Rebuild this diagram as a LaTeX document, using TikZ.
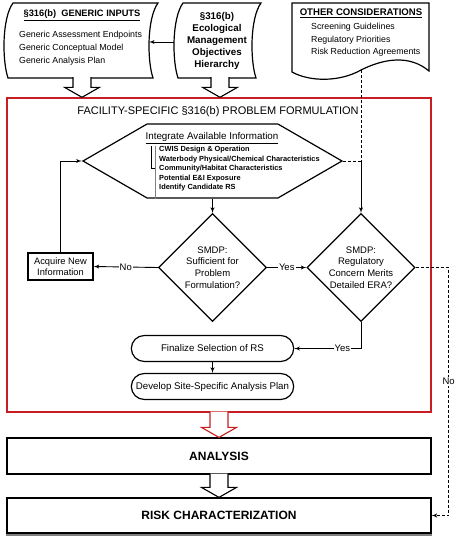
\documentclass[tikz,border=0pt]{standalone}
\usepackage{fontspec}
\setmainfont{Liberation Sans}
\usetikzlibrary{shapes.geometric, shapes.misc, shapes.symbols, arrows}
\definecolor{framered}{RGB}{200,30,35}

\begin{document}
\begin{tikzpicture}[x = 1pt, y = -1pt,
  outline/.style = {draw = black, line width = 1.2pt},
  box/.style = {draw = black, line width = 1.2pt, align = center, inner sep = 0pt},
  bigbox/.style = {box, minimum width = 424pt, font = \fontsize{12}{14}\selectfont\bfseries},
  procbox/.style = {draw = black, rounded rectangle, line width = 1.2pt, minimum width = 169pt, minimum height = 26pt, font = \fontsize{9.7}{11}\selectfont},
  decision/.style = {draw = black, diamond, aspect = 1, line width = 1.2pt, minimum width = 108pt, minimum height = 108pt, inner sep = 0pt},
  dectext/.style = {align = center, font = \fontsize{9.5}{11.7}\selectfont},
  lbl/.style = {fill = white, inner sep = 1pt, font = \fontsize{9.5}{11}\selectfont},
  flow/.style = {line width = 0.9pt, -latex'},
  dashline/.style = {line width = 0.9pt, dash pattern = on 3pt off 2pt},
  dashflow/.style = {dashline, -latex'},
  fatarrow/.style = {line width = 1.1pt, fill = white,
    to path = {([xshift = -9pt]\tikztostart) -- ([xshift = -9pt, yshift = 10pt]\tikztotarget)
      -- ([xshift = -17.5pt, yshift = 10pt]\tikztotarget) -- (\tikztotarget)
      -- ([xshift = 17.5pt, yshift = 10pt]\tikztotarget) -- ([xshift = 9pt, yshift = 10pt]\tikztotarget)
      -- ([xshift = 9pt]\tikztostart)}}]

\useasboundingbox (0, 0) rectangle (474, 536);

\path [outline] (13, 3) -- (158, 3) .. controls (147, 18) and (147, 60) .. (153, 78) -- (8, 78) .. controls (2, 60) and (2, 18) .. (13, 3) -- cycle;
\node [font = \fontsize{9.3}{11}\selectfont\bfseries] (ginTitle) at (82, 15) {\underline{§316(b)\ \ GENERIC INPUTS}};
\node [anchor = west, align = left, inner sep = 0pt, font = \fontsize{8.8}{13}\selectfont] (ginList) at (19, 48) {Generic Assessment Endpoints\\Generic Conceptual Model\\Generic Analysis Plan};
\coordinate (ginE) at (149, 42);
\coordinate (ginS) at (82, 77);

\path [outline] (183, 3) -- (261, 3) .. controls (250, 18) and (250, 60) .. (256, 78) -- (178, 78) .. controls (172, 60) and (172, 18) .. (183, 3) -- cycle;
\node [align = center, font = \fontsize{9.8}{12}\selectfont\bfseries] (eco) at (217, 41) {§316(b)\\Ecological\\Management\\Objectives\\Hierarchy};
\coordinate (ecoW) at (174, 42);
\coordinate (ecoS) at (220, 77);

\path [outline] (292, 72) -- (292, 3) -- (429, 3) -- (429, 71) .. controls (410, 55) and (385, 58) .. (361, 70) .. controls (340, 82) and (310, 82) .. (292, 72) -- cycle;
\node [font = \fontsize{9.6}{11}\selectfont\bfseries] (othTitle) at (361, 13) {\underline{OTHER CONSIDERATIONS}};
\node [anchor = west, align = left, inner sep = 0pt, font = \fontsize{8.8}{12.5}\selectfont] (othList) at (311, 40) {Screening Guidelines\\Regulatory Priorities\\Risk Reduction Agreements};
\coordinate (othS) at (361, 70);

\path [draw, flow] (ecoW) -- (ginE);

\node [draw = framered, line width = 1.4pt, minimum width = 424pt, minimum height = 314pt] (frame) at (219, 255) {};
\node [font = \fontsize{11}{13}\selectfont] (frameTitle) at (218, 112) {FACILITY-SPECIFIC §316(b) PROBLEM FORMULATION};

\node [outline, signal, signal to = west and east, signal pointer angle = 60, minimum width = 259pt, minimum height = 74pt, inner sep = 0pt] (integ) at (212.5, 161) {};
\node [font = \fontsize{9.8}{11}\selectfont] (integTitle) at (212, 138) {\underline{Integrate Available Information}};
\node [anchor = north west, align = left, inner sep = 0pt, font = \fontsize{7.4}{9.5}\selectfont\bfseries] (integList) at (159, 146) {CWIS Design \& Operation\\Waterbody Physical/Chemical Characteristics\\Community/Habitat Characteristics\\Potential E\&I Exposure\\Identify Candidate RS};
\path [draw, gray, line width = 1pt] ([xshift = -4pt]integList.north west) -- ([xshift = -4pt]integList.north west |- integ.south);
\path [draw, line width = 0.6pt] ([xshift = -8pt]integList.north west) -- ++(0, 22) -- ++(4, 0);

\node [decision] (dec1) at (212.5, 267.5) {};
\node [dectext] (dec1Text) at (dec1) {SMDP:\\Sufficient for\\Problem\\Formulation?};
\node [decision] (dec2) at (361, 267.5) {};
\node [dectext] (dec2Text) at (dec2) {SMDP:\\Regulatory\\Concern Merits\\Detailed ERA?};

\node [box, minimum width = 65pt, minimum height = 27pt, font = \fontsize{9.3}{11}\selectfont] (acquire) at (60.5, 266.5) {Acquire New\\Information};

\node [procbox] (finalize) at (212.5, 348.5) {Finalize Selection of RS};
\node [procbox] (develop) at (212.5, 386.5) {Develop Site-Specific Analysis Plan};

\node [bigbox, minimum height = 36pt] (analysis) at (219, 456) {ANALYSIS};
\node [bigbox, minimum height = 35pt] (risk) at (219, 515.5) {RISK CHARACTERIZATION};
\path [draw, gray, line width = 2pt] ([yshift = -1.6pt]risk.south west) -- ([yshift = -1.6pt]risk.south east);

\coordinate (merge) at (othS |- integ.east);
\path [draw, dashline] (othS) -- (merge);
\path [draw, dashline] (integ.east) -- (merge);
\path [draw, flow] (merge) -- (dec2.north);
\path [draw, flow] (integ.south) -- (dec1.north);
\path [draw, flow] (dec1.west) -- node [lbl] {No} (acquire.east);
\path [draw, flow] (dec1.east) -- node [lbl] {Yes} (dec2.west);
\path [draw, flow] (acquire.north) |- (integ.west);
\path [draw, flow] (dec2.south) |- node [lbl, pos = 0.64] {Yes} (finalize.east);
\path [draw, flow] (finalize.south) -- (develop.north);
\path [draw, dashflow] (dec2.east) -- ++(33, 0) |- node [lbl, pos = 0.23] {No} (risk.east);

\path [draw, fatarrow] (ginS) to (ginS |- frame.north);
\path [draw, fatarrow] (ecoS) to (ecoS |- frame.north);
\path [draw = framered, fatarrow] ([yshift = 1pt]frame.south) to (frame.south |- analysis.north);
\path [draw, fatarrow] ([yshift = 1pt]analysis.south) to (risk.north);
\end{tikzpicture}
\end{document}
